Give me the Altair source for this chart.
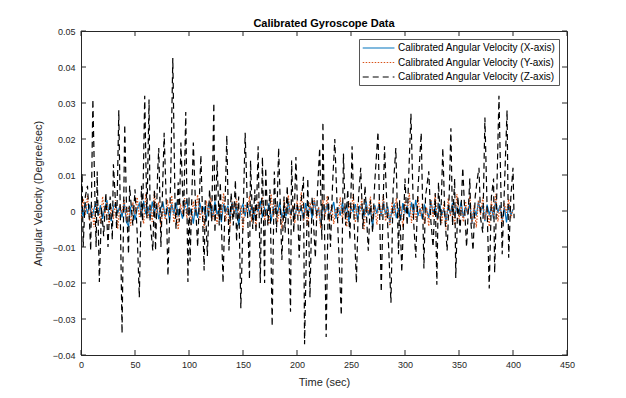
import altair as alt
import pandas as pd

SERIES = [
    "Calibrated Angular Velocity (X-axis)",
    "Calibrated Angular Velocity (Y-axis)",
    "Calibrated Angular Velocity (Z-axis)",
]
COLORS = ["#0072BD", "#D95319", "#000000"]
XTICKS = [0, 50, 100, 150, 200, 250, 300, 350, 400, 450]
YTICKS = [-0.04, -0.03, -0.02, -0.01, 0, 0.01, 0.02, 0.03, 0.04, 0.05]

# time grid for X / Y series (seconds)
t_xy = list(range(0, 401, 2))

x_vals = [
    0.0010, -0.0015, 0.0022, -0.0008, 0.0018, -0.0020, 0.0005, 0.0025, -0.0012, 0.0016,
    -0.0022, 0.0008, 0.0030, -0.0010, -0.0028, 0.0012, 0.0020, -0.0006, 0.0015, -0.0018,
    0.0024, -0.0030, -0.0042, 0.0010, 0.0018, -0.0025, 0.0006, 0.0021, -0.0014, 0.0028,
    -0.0009, 0.0013, -0.0020, 0.0026, -0.0004, 0.0017, -0.0023, 0.0009, 0.0022, -0.0016,
    0.0011, -0.0027, 0.0019, -0.0007, 0.0024, -0.0013, 0.0003, -0.0021, 0.0016, 0.0029,
    -0.0011, 0.0007, -0.0035, 0.0014, -0.0019, 0.0023, -0.0005, 0.0012, -0.0026, 0.0018,
    0.0004, -0.0017, 0.0027, -0.0010, 0.0009, -0.0031, 0.0020, -0.0003, 0.0015, -0.0022,
    0.0025, -0.0008, 0.0011, -0.0040, 0.0006, 0.0019, -0.0015, 0.0023, -0.0006, 0.0013,
    -0.0024, 0.0017, -0.0002, 0.0028, -0.0018, 0.0008, -0.0012, 0.0021, -0.0029, 0.0010,
    0.0016, -0.0007, 0.0024, -0.0020, 0.0003, -0.0014, 0.0026, -0.0009, 0.0012, -0.0023,
    0.0018, -0.0004, 0.0009, -0.0027, 0.0022, -0.0011, 0.0014, -0.0019, 0.0030, -0.0006,
    0.0007, -0.0038, 0.0015, -0.0008, 0.0020, -0.0016, 0.0004, 0.0025, -0.0021, 0.0011,
    -0.0013, 0.0023, -0.0005, 0.0017, -0.0030, 0.0010, -0.0002, 0.0019, -0.0024, 0.0013,
    0.0006, -0.0018, 0.0026, -0.0012, 0.0008, -0.0045, 0.0016, -0.0007, 0.0021, -0.0015,
    0.0027, -0.0010, 0.0012, -0.0033, 0.0005, 0.0018, -0.0020, 0.0009, -0.0026, 0.0022,
    -0.0004, 0.0014, -0.0017, 0.0024, -0.0009, 0.0031, -0.0014, 0.0007, -0.0022, 0.0016,
    0.0003, -0.0019, 0.0028, -0.0006, 0.0013, -0.0025, 0.0020, -0.0011, 0.0006, -0.0030,
    0.0017, -0.0008, 0.0023, -0.0015, 0.0010, -0.0004, 0.0026, -0.0019, 0.0012, -0.0007,
    0.0021, -0.0036, 0.0008, -0.0013, 0.0025, -0.0002, 0.0015, -0.0028, 0.0018, -0.0010,
    0.0009, -0.0021, 0.0027, -0.0005, 0.0016, -0.0024, 0.0011, -0.0032, 0.0019, -0.0012,
    0.0005,
]

y_vals = [
    -0.0020, 0.0035, -0.0010, 0.0042, -0.0028, 0.0015, -0.0045, 0.0022, 0.0008, -0.0033,
    0.0040, -0.0012, 0.0025, -0.0038, 0.0010, -0.0022, 0.0030, -0.0050, 0.0018, -0.0006,
    0.0033, -0.0027, 0.0012, -0.0041, 0.0024, -0.0009, 0.0038, -0.0016, 0.0006, -0.0035,
    0.0048, -0.0020, 0.0017, -0.0030, 0.0055, -0.0011, 0.0026, -0.0044, 0.0009, -0.0024,
    0.0031, -0.0014, 0.0043, -0.0032, 0.0007, -0.0052, 0.0021, -0.0008, 0.0036, -0.0019,
    0.0012, -0.0039, 0.0027, -0.0005, 0.0045, -0.0025, 0.0014, -0.0047, 0.0029, -0.0010,
    0.0037, -0.0023, 0.0008, -0.0036, 0.0022, -0.0015, 0.0050, -0.0028, 0.0011, -0.0042,
    0.0026, -0.0007, 0.0034, -0.0021, 0.0015, -0.0055, 0.0019, -0.0004, 0.0041, -0.0030,
    0.0013, -0.0046, 0.0028, -0.0012, 0.0039, -0.0026, 0.0006, -0.0037, 0.0047, -0.0017,
    0.0023, -0.0031, 0.0010, -0.0049, 0.0032, -0.0008, 0.0044, -0.0022, 0.0016, -0.0034,
    0.0029, -0.0013, 0.0052, -0.0027, 0.0009, -0.0040, 0.0024, -0.0006, 0.0035, -0.0021,
    0.0011, -0.0048, 0.0031, -0.0015, 0.0042, -0.0029, 0.0017, -0.0036, 0.0008, -0.0019,
    0.0038, -0.0024, 0.0013, -0.0044, 0.0027, -0.0009, 0.0046, -0.0032, 0.0020, -0.0011,
    0.0034, -0.0053, 0.0018, -0.0007, 0.0040, -0.0023, 0.0012, -0.0038, 0.0030, -0.0016,
    0.0044, -0.0028, 0.0007, -0.0041, 0.0025, -0.0012, 0.0036, -0.0020, 0.0014, -0.0045,
    0.0028, -0.0009, 0.0050, -0.0033, 0.0016, -0.0025, 0.0039, -0.0014, 0.0022, -0.0037,
    0.0010, -0.0042, 0.0032, -0.0018, 0.0045, -0.0026, 0.0008, -0.0034, 0.0024, -0.0051,
    0.0035, -0.0015, 0.0019, -0.0039, 0.0047, -0.0022, 0.0013, -0.0030, 0.0027, -0.0008,
    0.0041, -0.0035, 0.0015, -0.0046, 0.0030, -0.0010, 0.0037, -0.0024, 0.0009, -0.0043,
    0.0026, -0.0017, 0.0048, -0.0029, 0.0012, -0.0036, 0.0021, -0.0005, 0.0033, -0.0020,
    0.0004,
]

z_time = [
    0, 1, 2, 4, 6, 8, 9, 11, 13, 14, 15, 17, 19, 21, 23, 25, 27, 29, 30, 32,
    33, 35, 38, 40.5, 42, 44, 45, 48, 50, 52, 54, 56, 57, 59, 61, 63, 64, 66.5, 68, 69,
    71, 72, 74, 77, 79, 80.5, 83, 85, 87, 88, 90, 91, 92.5, 95, 97, 99, 100, 101, 104, 106,
    108, 111, 114, 115, 117, 119, 121, 123, 124, 126, 128, 129, 131.5, 135, 137, 139, 141, 143, 144, 146,
    148, 152, 154, 156, 157, 159, 161, 162, 164, 166, 168, 170, 171, 173, 175, 177, 179, 181, 183, 186,
    188, 189, 191, 194, 195, 197, 199, 202, 204, 206, 207, 210, 212, 214, 217, 219, 221, 223, 224, 227,
    229, 231, 233, 235, 238, 241, 243, 245, 247, 249, 251, 253, 255, 257, 259, 261, 263, 266, 268, 270,
    272, 275, 278, 281, 284, 287, 289, 291.5, 294, 295, 297, 300, 302, 303, 305.5, 308, 310, 312, 315, 317.5,
    319, 322, 324, 326, 328, 329.5, 331, 333, 335, 337, 339, 341, 342.5, 344, 346, 347, 349, 351, 353.5, 355,
    357, 360, 361, 363, 365, 367, 368.5, 370, 372, 374, 376, 378, 380, 382, 383, 385, 387, 390, 392, 394.5,
    396, 398, 400, 401,
]

z_vals = [
    0.003, 0.0105, -0.010, 0.004, 0.007, -0.004, -0.011, 0.031, 0.002, -0.010,
    0.011, -0.0197, 0.001, -0.007, 0.005, -0.010, 0.004, -0.008, 0.013, 0.002,
    -0.005, 0.028, -0.034, 0.024, 0.003, -0.012, 0.007, -0.004, 0.006, -0.006,
    -0.024, 0.007, -0.003, 0.032, -0.002, 0.031, -0.003, -0.011, 0.006, -0.011,
    0.011, 0.0175, -0.010, 0.0217, 0.002, -0.018, 0.008, 0.0425, 0.003, -0.005,
    0.008, -0.003, 0.019, -0.002, 0.0275, -0.0197, 0.004, -0.014, 0.019, 0.002,
    -0.010, 0.0155, -0.0165, 0.003, -0.0125, 0.006, -0.003, 0.030, -0.006, 0.014,
    -0.004, 0.008, -0.020, 0.021, -0.011, 0.005, -0.004, 0.0086, -0.0085, 0.004,
    -0.027, 0.0217, 0.002, -0.019, 0.014, -0.005, 0.006, -0.006, 0.018, -0.020,
    0.015, -0.020, 0.012, -0.004, 0.006, -0.032, 0.011, -0.006, 0.0175, -0.0136,
    0.004, -0.006, 0.007, -0.028, 0.014, -0.006, 0.015, -0.013, 0.003, 0.0095,
    -0.037, 0.009, -0.024, 0.004, -0.013, 0.006, 0.0175, -0.008, 0.0247, -0.035,
    0.004, -0.010, 0.008, 0.020, -0.006, -0.029, 0.016, -0.004, 0.006, -0.008,
    0.018, -0.004, -0.020, 0.004, 0.012, -0.005, 0.007, -0.011, 0.003, -0.006,
    0.008, 0.022, -0.0225, 0.018, -0.004, -0.0255, 0.006, 0.0175, -0.012, 0.003,
    -0.017, 0.009, -0.004, 0.006, 0.027, -0.003, -0.013, 0.006, 0.0217, -0.016,
    0.004, 0.011, -0.003, -0.010, 0.005, -0.0205, 0.008, -0.004, 0.0175, -0.002,
    -0.011, 0.005, 0.023, -0.004, 0.009, -0.0186, 0.004, -0.006, 0.012, 0.002,
    -0.010, 0.009, -0.003, -0.011, 0.004, 0.009, 0.012, -0.002, -0.006, 0.026,
    0.001, -0.0215, 0.004, 0.009, -0.0172, 0.005, 0.032, -0.012, 0.006, 0.028,
    -0.013, 0.004, 0.012, -0.002,
]

rows = []
for t, v in zip(t_xy, x_vals):
    rows.append({"t": t, "v": v, "series": SERIES[0]})
for t, v in zip(t_xy, y_vals):
    rows.append({"t": t, "v": v, "series": SERIES[1]})
for t, v in zip(z_time, z_vals):
    rows.append({"t": t, "v": v, "series": SERIES[2]})
df = pd.DataFrame(rows)

W, H = 486, 324
AX = "#262626"
FONT = "Liberation Sans"

x_enc = alt.X(
    "t:Q",
    scale=alt.Scale(domain=[0, 450], nice=False, zero=False),
    axis=alt.Axis(values=XTICKS, title="Time (sec)", ticks=False, grid=False,
                  labelFontSize=9, titleFontSize=11, titleFontWeight="normal",
                  labelPadding=5, titlePadding=7, labelFlush=False),
)
y_enc = alt.Y(
    "v:Q",
    scale=alt.Scale(domain=[-0.04, 0.05], nice=False, zero=False),
    axis=alt.Axis(values=YTICKS, title="Angular Velocity (Degree/sec)", ticks=False, grid=False,
                  labelFontSize=9, titleFontSize=11, titleFontWeight="normal",
                  labelPadding=6, titlePadding=9, labelFlush=False,
                  labelExpr="datum.value == 0 ? '0' : format(datum.value, '.2f')"),
)

legend = alt.Legend(
    title=None, orient="none", legendX=278, legendY=8,
    symbolType="M-1,0L5,0", symbolSize=112, symbolStrokeWidth=1.2,
    labelFontSize=10, labelColor="#000000", labelOffset=24, labelLimit=400,
    rowPadding=3.5, padding=3, strokeColor="#555555", fillColor="white",
)
color_enc = alt.Color("series:N", scale=alt.Scale(domain=SERIES, range=COLORS), legend=legend)
dash_enc = alt.StrokeDash("series:N",
                          scale=alt.Scale(domain=SERIES, range=[[1, 0], [1.5, 1.5], [6, 4]]),
                          legend=legend)


def line_layer(name):
    return alt.Chart(df).transform_filter(alt.datum.series == name).mark_line(
        strokeWidth=1.2, clip=True
    ).encode(x=x_enc, y=y_enc, color=color_enc, strokeDash=dash_enc)


xt = pd.DataFrame({"t": XTICKS})
yt = pd.DataFrame({"v": YTICKS})
tick_style = dict(color=AX, size=5, thickness=1, opacity=1)
ticks_bottom = alt.Chart(xt).mark_tick(**tick_style).encode(x=x_enc, y=alt.value(H - 2.5))
ticks_top = alt.Chart(xt).mark_tick(**tick_style).encode(x=x_enc, y=alt.value(2.5))
ticks_left = alt.Chart(yt).mark_tick(**tick_style).encode(y=y_enc, x=alt.value(2.5))
ticks_right = alt.Chart(yt).mark_tick(**tick_style).encode(y=y_enc, x=alt.value(W - 2.5))

chart = alt.layer(
    line_layer(SERIES[0]), line_layer(SERIES[1]), line_layer(SERIES[2]),
    ticks_bottom, ticks_top, ticks_left, ticks_right,
).properties(
    width=W, height=H,
    title=alt.TitleParams("Calibrated Gyroscope Data", fontSize=11, fontWeight="bold",
                          anchor="middle", offset=-2, color="#000000", font=FONT),
    autosize=alt.AutoSizeParams(type="none"),
    padding={"left": 73, "top": 23, "right": 51, "bottom": 40},
).configure(
    font=FONT,
).configure_view(
    stroke=AX, strokeWidth=1,
).configure_axis(
    domainColor=AX, labelColor=AX, titleColor=AX, labelFont=FONT, titleFont=FONT,
).configure_legend(
    labelFont=FONT,
)

chart.save("out.html", embed_options={"renderer": "svg", "actions": False})
